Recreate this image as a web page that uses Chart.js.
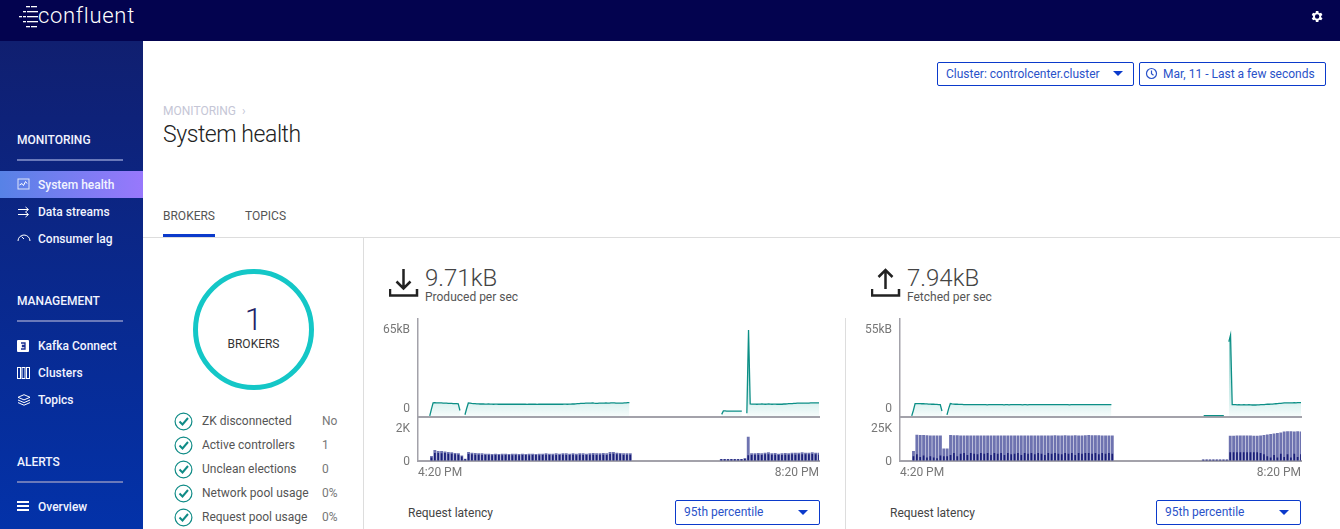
<!DOCTYPE html>
<html>
<head>
<meta charset="utf-8">
<title>System health</title>
<script src="https://cdn.jsdelivr.net/npm/chart.js@4"></script>
<style>
* { box-sizing: border-box; }
html, body { margin: 0; padding: 0; width: 1340px; height: 529px; overflow: hidden; background: #fff; font-family: Roboto, sans-serif; }
.abs { position: absolute; white-space: nowrap; }
#topbar { left: 0; top: 0; width: 1340px; height: 41px; background: #03034f; }
#logoText { left: 38px; top: 3px; font-size: 22px; font-weight: 300; color: #fff; letter-spacing: 0.7px; line-height: 26px; }
#sidebar { left: 0; top: 41px; width: 143px; height: 488px; background: linear-gradient(#101f70, #0332a9); }
.navHead { left: 17px; font-size: 12px; font-weight: 500; color: #f2f4ff; line-height: 14px; }
.navRule { left: 17px; width: 106px; height: 2px; background: #6a79ba; }
.navItem { left: 38px; font-size: 12px; font-weight: 500; color: #f2f4ff; line-height: 14px; }
#activeItem { left: 0; top: 171px; width: 143px; height: 27px; background: linear-gradient(90deg, #5782e6, #9878fc); }
.navIcon { left: 17px; }
#crumb { left: 163px; top: 104px; font-size: 12px; color: #c5c6d6; line-height: 14px; }
#title { left: 163px; top: 121px; font-size: 23px; font-weight: 300; color: #222; line-height: 28px; letter-spacing: -0.45px; }
.tab { top: 209px; font-size: 12px; color: #555; line-height: 14px; }
#tabLine { left: 163px; top: 234px; width: 52px; height: 3px; background: #0b3acb; }
#tabRule { left: 143px; top: 237px; width: 1197px; height: 1px; background: #ddd; }
.vRule { width: 1px; background: #ddd; }
.btn { border: 1.3px solid #0b3acb; border-radius: 2px; color: #2a52c9; font-size: 12px; line-height: 23px; padding-left: 8px; background: #fff; }
.caret { width: 0; height: 0; border-left: 5.5px solid transparent; border-right: 5.5px solid transparent; border-top: 5.5px solid #0b3acb; }
#ring { left: 193px; top: 269px; width: 121px; height: 121px; border: 5px solid #14c7c7; border-radius: 50%; }
#ringNum { left: 193px; width: 121px; top: 301px; text-align: center; font-size: 32px; font-weight: 300; color: #222266; line-height: 36px; }
#ringLabel { left: 193px; width: 121px; top: 337px; text-align: center; font-size: 12px; color: #333; line-height: 14px; }
.statName { left: 202px; font-size: 12px; color: #555; line-height: 14px; }
.statVal { left: 322px; font-size: 12px; color: #777; line-height: 14px; }
.bigNum { font-size: 24px; font-weight: 300; color: #444; line-height: 28px; }
.bigSub { font-size: 12px; color: #555; line-height: 14px; }
.latLabel { font-size: 12px; color: #444; line-height: 14px; }
canvas { position: absolute; display: block; }
</style>
</head>
<body>

<div class="abs" id="topbar"></div>
<svg class="abs" style="left:19px;top:5px" width="20" height="24">
  <g fill="#fff">
    <rect x="7" y="1" width="4" height="1.3"/><rect x="12" y="1" width="6" height="1.3"/>
    <rect x="4" y="6" width="3" height="1.3"/><rect x="8" y="6" width="11" height="1.3"/>
    <rect x="0" y="11" width="3" height="1.3"/><rect x="4" y="11" width="3" height="1.3"/><rect x="8" y="11" width="11" height="1.3"/>
    <rect x="4" y="16" width="3" height="1.3"/><rect x="8" y="16" width="11" height="1.3"/>
    <rect x="7" y="21" width="4" height="1.3"/><rect x="12" y="21" width="6" height="1.3"/>
  </g>
</svg>
<div class="abs" id="logoText">confluent</div>
<svg class="abs" style="left:1309px;top:9px" width="15" height="15" viewBox="0 0 24 24">
  <path fill="#fff" d="M19.4 13a7.5 7.5 0 0 0 0-2l2.1-1.6-2-3.5-2.5 1a7.6 7.6 0 0 0-1.7-1L15 3.2h-4l-.4 2.7a7.6 7.6 0 0 0-1.7 1l-2.5-1-2 3.5L6.5 11a7.5 7.5 0 0 0 0 2l-2.1 1.6 2 3.5 2.5-1c.5.4 1.1.7 1.7 1l.4 2.7h4l.4-2.7c.6-.3 1.2-.6 1.7-1l2.5 1 2-3.5zM13 15.5a3.5 3.5 0 1 1 0-7 3.5 3.5 0 0 1 0 7z"/>
</svg>

<div class="abs" id="sidebar"></div>
<div class="abs" id="activeItem"></div>
<div class="abs navHead" style="top:133px">MONITORING</div>
<div class="abs navRule" style="top:159px"></div>
<svg class="abs navIcon" style="top:178px" width="13" height="13" fill="none" stroke="#fff"><rect x="1" y="1" width="11" height="10" stroke-opacity=".8"/><path d="M2.5 7l2.5-1.5 1.5 2 2-4 1.5 2"/></svg>
<div class="abs navItem" style="top:178px">System health</div>
<svg class="abs navIcon" style="top:206px" width="14" height="12" fill="none" stroke="#fff"><path d="M1 3.5h10M8.5 1l3 2.5-3 2.5M1 8.5h10M8.5 6l3 2.5-3 2.5" stroke-dasharray="none"/></svg>
<div class="abs navItem" style="top:205px">Data streams</div>
<svg class="abs navIcon" style="top:233px" width="14" height="10" fill="none" stroke="#fff"><path d="M1 8a6 6 0 0 1 12 0M7 6L4.5 3.5"/></svg>
<div class="abs navItem" style="top:232px">Consumer lag</div>

<div class="abs navHead" style="top:294px">MANAGEMENT</div>
<div class="abs navRule" style="top:320px"></div>
<svg class="abs navIcon" style="top:340px" width="13" height="12"><rect width="12" height="12" rx="1" fill="#fff"/><path d="M4 3h4v2.5H5.5v1H8V9H4" fill="none" stroke="#1a2f90" stroke-width="1.3"/></svg>
<div class="abs navItem" style="top:339px">Kafka Connect</div>
<svg class="abs navIcon" style="top:367px" width="13" height="12" fill="none" stroke="#fff"><rect x=".5" y=".5" width="3" height="11"/><rect x="5" y=".5" width="3" height="11"/><rect x="9.5" y=".5" width="3" height="11"/></svg>
<div class="abs navItem" style="top:366px">Clusters</div>
<svg class="abs navIcon" style="top:394px" width="14" height="12" fill="none" stroke="#fff"><path d="M7 .7l6 2.6-6 2.6-6-2.6zM1 6l6 2.6L13 6M1 8.6l6 2.6 6-2.6"/></svg>
<div class="abs navItem" style="top:393px">Topics</div>

<div class="abs navHead" style="top:455px">ALERTS</div>
<div class="abs navRule" style="top:481px"></div>
<svg class="abs navIcon" style="top:501px" width="13" height="11" fill="#fff"><rect width="12" height="2"/><rect y="4" width="12" height="2"/><rect y="8" width="12" height="2"/></svg>
<div class="abs navItem" style="top:500px">Overview</div>

<div class="abs btn" style="left:937px;top:62px;width:197px;height:24px">Cluster: controlcenter.cluster</div>
<div class="abs caret" style="left:1113px;top:71px"></div>
<div class="abs btn" style="left:1139px;top:62px;width:187px;height:24px;padding-left:23px">Mar, 11 - Last a few seconds</div>
<svg class="abs" style="left:1145px;top:67px" width="13" height="13" fill="none" stroke="#2a52c9" stroke-width="1.2"><circle cx="6.5" cy="6.5" r="5"/><path d="M6.5 3.5v3.3l2 1.5"/></svg>

<div class="abs" id="crumb">MONITORING &nbsp;›</div>
<div class="abs" id="title">System health</div>
<div class="abs tab" style="left:163px">BROKERS</div>
<div class="abs tab" style="left:245px">TOPICS</div>
<div class="abs" id="tabLine"></div>
<div class="abs" id="tabRule"></div>
<div class="abs vRule" style="left:363px;top:238px;height:291px"></div>
<div class="abs vRule" style="left:845px;top:318px;height:211px"></div>

<div class="abs" id="ring"></div>
<div class="abs" id="ringNum">1</div>
<div class="abs" id="ringLabel">BROKERS</div>
<div id="stats"></div>

<svg class="abs" style="left:389px;top:268px" width="30" height="30" fill="none" stroke="#222" stroke-width="2.5"><path d="M1 21v6.5h27V21M14.5 1v19M7.5 13.5l7 7 7-7"/></svg>
<div class="abs bigNum" style="left:425px;top:264px">9.71kB</div>
<div class="abs bigSub" style="left:425px;top:290px">Produced per sec</div>
<svg class="abs" style="left:871px;top:268px" width="30" height="30" fill="none" stroke="#222" stroke-width="2.5"><path d="M1 21v6.5h27V21M14.5 21V2M7.5 9l7-7 7 7"/></svg>
<div class="abs bigNum" style="left:907px;top:264px">7.94kB</div>
<div class="abs bigSub" style="left:907px;top:290px">Fetched per sec</div>

<canvas id="producedChart" width="455" height="100" style="left:370px;top:318px"></canvas>
<canvas id="producedReqChart" width="455" height="64" style="left:370px;top:418px"></canvas>
<canvas id="fetchedChart" width="455" height="100" style="left:852px;top:318px"></canvas>
<canvas id="fetchedReqChart" width="455" height="64" style="left:852px;top:418px"></canvas>

<div class="abs latLabel" style="left:408px;top:506px">Request latency</div>
<div class="abs btn" style="left:675px;top:500px;width:145px;height:25px">95th percentile</div>
<div class="abs caret" style="left:798px;top:510px"></div>
<div class="abs latLabel" style="left:890px;top:506px">Request latency</div>
<div class="abs btn" style="left:1156px;top:500px;width:145px;height:25px">95th percentile</div>
<div class="abs caret" style="left:1279px;top:510px"></div>

<script>
// Values (null = no data)
const timeTicks = ['4:20 PM', '8:20 PM'];

// kB per sec, one sample a minute
const producedKb = [
    null, null, null, null, null, null, null, 0.4, 5.5, 10.3, 10.4, 10.3, 10.3, 10.2, 10.2, 10.1, 10.0, 10.0, 9.9, 9.9,
    9.8, 9.7, 9.7, 9.6, 9.5, 4.5, null, null, 1.3, 6.0, 10.1, 10.0, 9.8, 9.7, 9.6, 9.5, 9.5, 9.4, 9.4, 9.4,
    9.3, 9.3, 9.4, 9.3, 9.3, 9.2, 9.3, 9.3, 9.2, 9.2, 9.3, 9.2, 9.2, 9.3, 9.2, 9.2, 9.3, 9.2, 9.2, 9.2,
    9.3, 9.2, 9.2, 9.3, 9.2, 9.1, 9.2, 9.2, 9.3, 9.2, 9.2, 9.1, 9.2, 9.2, 9.2, 9.3, 9.2, 9.2, 9.3, 9.2,
    9.2, 9.3, 9.2, 9.2, 9.3, 9.2, 9.2, 9.3, 9.3, 9.2, 9.3, 9.3, 9.4, 9.4, 9.5, 9.6, 9.7, 9.8, 9.9, 9.9,
    10.0, 10.0, 10.1, 10.1, 10.2, 10.0, 9.9, 9.9, 10.0, 10.1, 10.0, 10.1, 10.2, 10.0, 10.0, 10.2, 10.2, 10.3, 10.1, 10.0,
    10.0, 10.1, 10.0, 10.2, 10.2, 10.4, 10.5, null, null, null, null, null, null, null, null, null, null, null, null, null,
    null, null, null, null, null, null, null, null, null, null, null, null, null, null, null, null, null, null, null, null,
    null, null, null, null, null, null, null, null, null, null, null, null, null, null, null, null, null, null, null, null,
    null, 1.6, 4.2, 4.2, 4.1, 4.1, 4.1, 4.1, 4.1, 4.1, 4.1, 4.1, 4.1, 4.1, null, null, 2.4, 65.0, 9.4, 9.3,
    9.3, 9.3, 9.2, 9.3, 9.3, 9.4, 9.3, 9.2, 9.3, 9.4, 9.3, 9.2, 9.3, 9.3, 9.2, 9.2, 9.3, 9.2, 9.4, 9.4,
    9.5, 9.6, 9.7, 9.7, 9.8, 9.9, 10.0, 10.0, 10.1, 10.1, 10.0, 10.0, 10.1, 10.1, 10.2, 10.2, 10.2, 10.3, 10.3, 10.3
];

const fetchedKb = [
    null, null, null, null, null, null, null, 0.4, 4.0, 8.2, 8.2, 8.2, 8.2, 8.1, 8.1, 8.0, 8.0, 7.9, 7.9, 7.8,
    7.8, 7.7, 7.7, 7.6, 7.5, 3.5, null, null, 1.0, 5.0, 8.2, 8.0, 7.9, 7.8, 7.8, 7.7, 7.7, 7.7, 7.6, 7.6,
    7.6, 7.6, 7.5, 7.6, 7.5, 7.5, 7.6, 7.5, 7.5, 7.5, 7.6, 7.5, 7.4, 7.5, 7.5, 7.5, 7.6, 7.5, 7.5, 7.5,
    7.5, 7.5, 7.4, 7.5, 7.5, 7.4, 7.5, 7.5, 7.5, 7.5, 7.5, 7.5, 7.5, 7.4, 7.5, 7.5, 7.4, 7.5, 7.5, 7.5,
    7.5, 7.6, 7.5, 7.5, 7.6, 7.6, 7.5, 7.6, 7.6, 7.5, 7.5, 7.5, 7.6, 7.5, 7.6, 7.6, 7.6, 7.5, 7.5, 7.5,
    7.5, 7.4, 7.5, 7.6, 7.5, 7.5, 7.5, 7.6, 7.5, 7.5, 7.6, 7.5, 7.5, 7.6, 7.5, 7.5, 7.6, 7.6, 7.5, 7.5,
    7.5, 7.5, 7.6, 7.5, 7.5, 7.5, 7.5, null, null, null, null, null, null, null, null, null, null, null, null, null,
    null, null, null, null, null, null, null, null, null, null, null, null, null, null, null, null, null, null, null, null,
    null, null, null, null, null, null, null, null, null, null, null, null, null, null, null, null, null, null, null, null,
    null, 0.5, 0.5, 0.5, 0.5, 0.5, 0.5, 0.5, 0.5, 0.5, 0.5, 0.5, 0.5, 0.5, null, null, 47.5, 51.8, 7.5, 7.5,
    7.5, 7.4, 7.5, 7.4, 7.4, 7.5, 7.4, 7.4, 7.5, 7.4, 7.3, 7.4, 7.3, 7.4, 7.4, 7.5, 7.5, 7.6, 7.7, 7.8,
    7.8, 7.9, 7.9, 8.0, 8.1, 8.2, 8.3, 8.4, 8.5, 8.6, 8.6, 8.7, 8.6, 8.7, 8.7, 8.8, 8.7, 8.8, 8.8, 8.8
];

// Requests in thousands, one bar every 2 minutes: totals and the darker part inside them
const producedReq = [
    null, null, null, null, 0.26, 0.62, 0.56, 0.56, 0.54, 0.50,
    0.48, 0.44, 0.42, 0.28, 0.08, 0.50, 0.46, 0.44, 0.42, 0.42,
    0.40, 0.40, 0.38, 0.40, 0.38, 0.40, 0.40, 0.38, 0.40, 0.40,
    0.38, 0.40, 0.38, 0.40, 0.40, 0.38, 0.40, 0.40, 0.42, 0.40,
    0.40, 0.42, 0.40, 0.42, 0.42, 0.40, 0.42, 0.40, 0.42, 0.42,
    0.40, 0.42, 0.44, 0.42, 0.42, 0.44, 0.42, 0.50, 0.50, 0.46,
    0.44, 0.42, 0.42, 0.42, null, null, null, null, null, null,
    null, null, null, null, null, null, null, null, null, null,
    null, null, null, null, null, null, null, null, null, null,
    0.07, 0.07, 0.07, 0.07, 0.07, 0.07, 0.07, 0.12, 1.44, 0.42,
    0.42, 0.44, 0.42, 0.46, 0.48, 0.42, 0.44, 0.40, 0.42, 0.44,
    0.42, 0.46, 0.46, 0.46, 0.48, 0.46, 0.46, 0.48, 0.46, 0.46
];

const producedReqDark = [
    null, null, null, null, 0.16, 0.44, 0.44, 0.42, 0.44, 0.40,
    0.40, 0.36, 0.34, 0.22, 0.06, 0.38, 0.36, 0.34, 0.34, 0.32,
    0.32, 0.32, 0.30, 0.32, 0.32, 0.30, 0.32, 0.32, 0.30, 0.32,
    0.30, 0.32, 0.32, 0.30, 0.32, 0.32, 0.30, 0.32, 0.34, 0.32,
    0.30, 0.32, 0.32, 0.34, 0.32, 0.32, 0.34, 0.30, 0.34, 0.32,
    0.32, 0.34, 0.34, 0.32, 0.34, 0.34, 0.32, 0.38, 0.40, 0.36,
    0.36, 0.32, 0.34, 0.34, null, null, null, null, null, null,
    null, null, null, null, null, null, null, null, null, null,
    null, null, null, null, null, null, null, null, null, null,
    0.05, 0.05, 0.05, 0.05, 0.05, 0.05, 0.05, 0.08, 0.30, 0.32,
    0.34, 0.34, 0.32, 0.36, 0.36, 0.34, 0.34, 0.32, 0.32, 0.34,
    0.34, 0.36, 0.34, 0.36, 0.36, 0.36, 0.36, 0.38, 0.36, 0.34
];

const fetchedReq = [
    null, null, null, null, 7.0, 19.6, 19.4, 19.3, 19.2, 19.0,
    19.0, 18.9, 18.9, 9.0, 9.0, 19.3, 19.2, 19.1, 19.0, 19.0,
    18.9, 19.0, 18.9, 18.9, 19.0, 18.9, 18.9, 19.0, 18.9, 18.9,
    19.0, 18.9, 18.9, 19.0, 18.9, 19.0, 18.9, 18.9, 19.0, 19.0,
    18.9, 19.0, 19.0, 18.9, 19.0, 19.0, 19.1, 19.0, 19.0, 19.1,
    19.0, 19.0, 19.1, 19.0, 19.0, 19.2, 19.3, 19.2, 19.1, 19.1,
    19.0, 19.0, 19.0, 19.0, null, null, null, null, null, null,
    null, null, null, null, null, null, null, null, null, null,
    null, null, null, null, null, null, null, null, null, null,
    0.5, 0.5, 0.5, 0.5, 0.5, 0.5, 0.5, 0.5, 18.8, 18.8,
    19.0, 19.0, 19.0, 19.0, 19.0, 18.8, 18.7, 18.9, 19.3, 19.7,
    20.2, 20.6, 21.0, 21.2, 22.0, 22.2, 22.2, 22.1, 22.2, 22.1
];

const fetchedReqDark = [
    null, null, null, null, 3.0, 4.5, 2.5, 3.5, 2.0, 3.0,
    2.0, 1.5, 3.5, 3.0, 3.0, 4.0, 5.5, 3.0, 5.0, 5.5,
    4.0, 5.5, 5.0, 4.5, 5.5, 5.0, 5.5, 4.0, 5.5, 5.0,
    5.5, 4.0, 5.5, 4.5, 5.0, 5.5, 4.0, 5.5, 5.0, 5.5,
    4.5, 5.5, 5.0, 4.0, 5.5, 5.0, 5.5, 5.0, 4.5, 5.5,
    5.0, 5.5, 4.0, 5.5, 5.0, 5.5, 5.5, 5.0, 5.5, 4.5,
    5.5, 5.0, 5.5, 5.0, null, null, null, null, null, null,
    null, null, null, null, null, null, null, null, null, null,
    null, null, null, null, null, null, null, null, null, null,
    0.3, 0.3, 0.3, 0.3, 0.3, 0.3, 0.3, 0.3, 6.0, 6.0,
    6.0, 6.0, 6.0, 6.0, 6.0, 6.0, 6.0, 5.5, 4.5, 3.0,
    2.0, 4.0, 2.0, 5.0, 2.5, 4.5, 2.0, 5.0, 2.5, 4.5
];

// Health checks under the broker ring
const statNames = ['ZK disconnected', 'Active controllers', 'Unclean elections', 'Network pool usage', 'Request pool usage'];
const statValues = ['No', '1', '0', '0%', '0%'];

const statsBox = document.getElementById('stats');
statNames.forEach((name, i) => {
    const y = 421 + i * 24;
    statsBox.innerHTML += `
        <svg class="abs" style="left:174px;top:${y - 9}px" width="19" height="19" fill="none" stroke="#0f8b86">
            <circle cx="9.5" cy="9.5" r="8.4" stroke-width="1.2"/>
            <path d="M5.5 9.5l3 3 5.5-6.5" stroke-width="2"/>
        </svg>
        <div class="abs statName" style="top:${y - 7}px">${name}</div>
        <div class="abs statVal" style="top:${y - 7}px">${statValues[i]}</div>`;
});

const axisGray = '#a3a2aa';
const tickFont = { family: 'Roboto', size: 12 };

function baseScales(yMax, yTicks, yLabel) {
    return {
        x: {
            offset: false,
            grid: { display: false, drawTicks: false },
            border: { color: axisGray, width: 2 }
        },
        y: {
            min: 0,
            max: yMax,
            grid: { display: false, drawTicks: false },
            border: { color: axisGray, width: 1.5 },
            afterBuildTicks: axis => { axis.ticks = yTicks.map(value => ({ value })); },
            // keep the plot at full height, tick labels must not shrink it
            afterFit: axis => { axis.width = 48; axis.paddingTop = 0; axis.paddingBottom = 0; },
            ticks: { color: '#777', font: tickFont, padding: 8, callback: yLabel }
        }
    };
}

// Pale teal under the line, stronger towards the spike
function areaFill(context) {
    const area = context.chart.chartArea;
    if (!area) return 'rgba(0,150,136,0.1)';
    const g = context.chart.ctx.createLinearGradient(0, area.top, 0, area.bottom);
    g.addColorStop(0.1, 'rgba(10,145,135,0.6)');
    g.addColorStop(0.87, 'rgba(40,175,165,0.16)');
    g.addColorStop(1, 'rgba(40,175,165,0.04)');
    return g;
}

function volumeChart(id, values, yMax, topValue, topLabel) {
    const scales = baseScales(yMax, [0, topValue], v => (v === 0 ? ['0', ''] : topLabel));
    scales.x.ticks = { display: false };
    scales.x.afterFit = axis => { axis.height = 1.5; };
    return new Chart(document.getElementById(id), {
        type: 'line',
        data: {
            labels: values.map((_, i) => i),
            datasets: [{
                data: values,
                borderColor: '#0c8f86',
                borderWidth: 1.3,
                pointRadius: 0,
                tension: 0,
                spanGaps: false,
                fill: 'origin',
                backgroundColor: areaFill
            }]
        },
        options: {
            responsive: false,
            animation: false,
            layout: { padding: { right: 6 } },
            plugins: { legend: { display: false }, tooltip: { enabled: false } },
            scales
        }
    });
}

function requestChart(id, totals, darks, yMax, topValue, topLabel) {
    const scales = baseScales(yMax, [0, topValue], v => (v === 0 ? '0' : topLabel));
    scales.y.ticks.labelOffset = 1;
    scales.x.ticks = {
        color: '#777',
        font: tickFont,
        padding: 5,
        align: 'inner',
        autoSkip: false,
        maxRotation: 0,
        callback: (v, i, ticks) => (i === 0 ? timeTicks[0] : i === ticks.length - 1 ? timeTicks[1] : '')
    };
    scales.x.afterFit = axis => { axis.height = 21.5; };
    return new Chart(document.getElementById(id), {
        type: 'bar',
        data: {
            labels: totals.map((_, i) => i),
            datasets: [
                { data: darks, backgroundColor: '#1a1f78', barThickness: 1, order: 1 },
                { data: totals, backgroundColor: 'rgba(62,68,150,0.75)', barThickness: 2.2, order: 2 }
            ]
        },
        options: {
            responsive: false,
            animation: false,
            datasets: { bar: { grouped: false } },
            layout: { padding: { right: 6 } },
            plugins: { legend: { display: false }, tooltip: { enabled: false } },
            scales
        }
    });
}

volumeChart('producedChart', producedKb, 74, 65, '65kB');
volumeChart('fetchedChart', fetchedKb, 62.6, 55, '55kB');
requestChart('producedReqChart', producedReq, producedReqDark, 2.615, 2, '2K');
requestChart('fetchedReqChart', fetchedReq, fetchedReqDark, 32.7, 25, '25K');
</script>
</body>
</html>
